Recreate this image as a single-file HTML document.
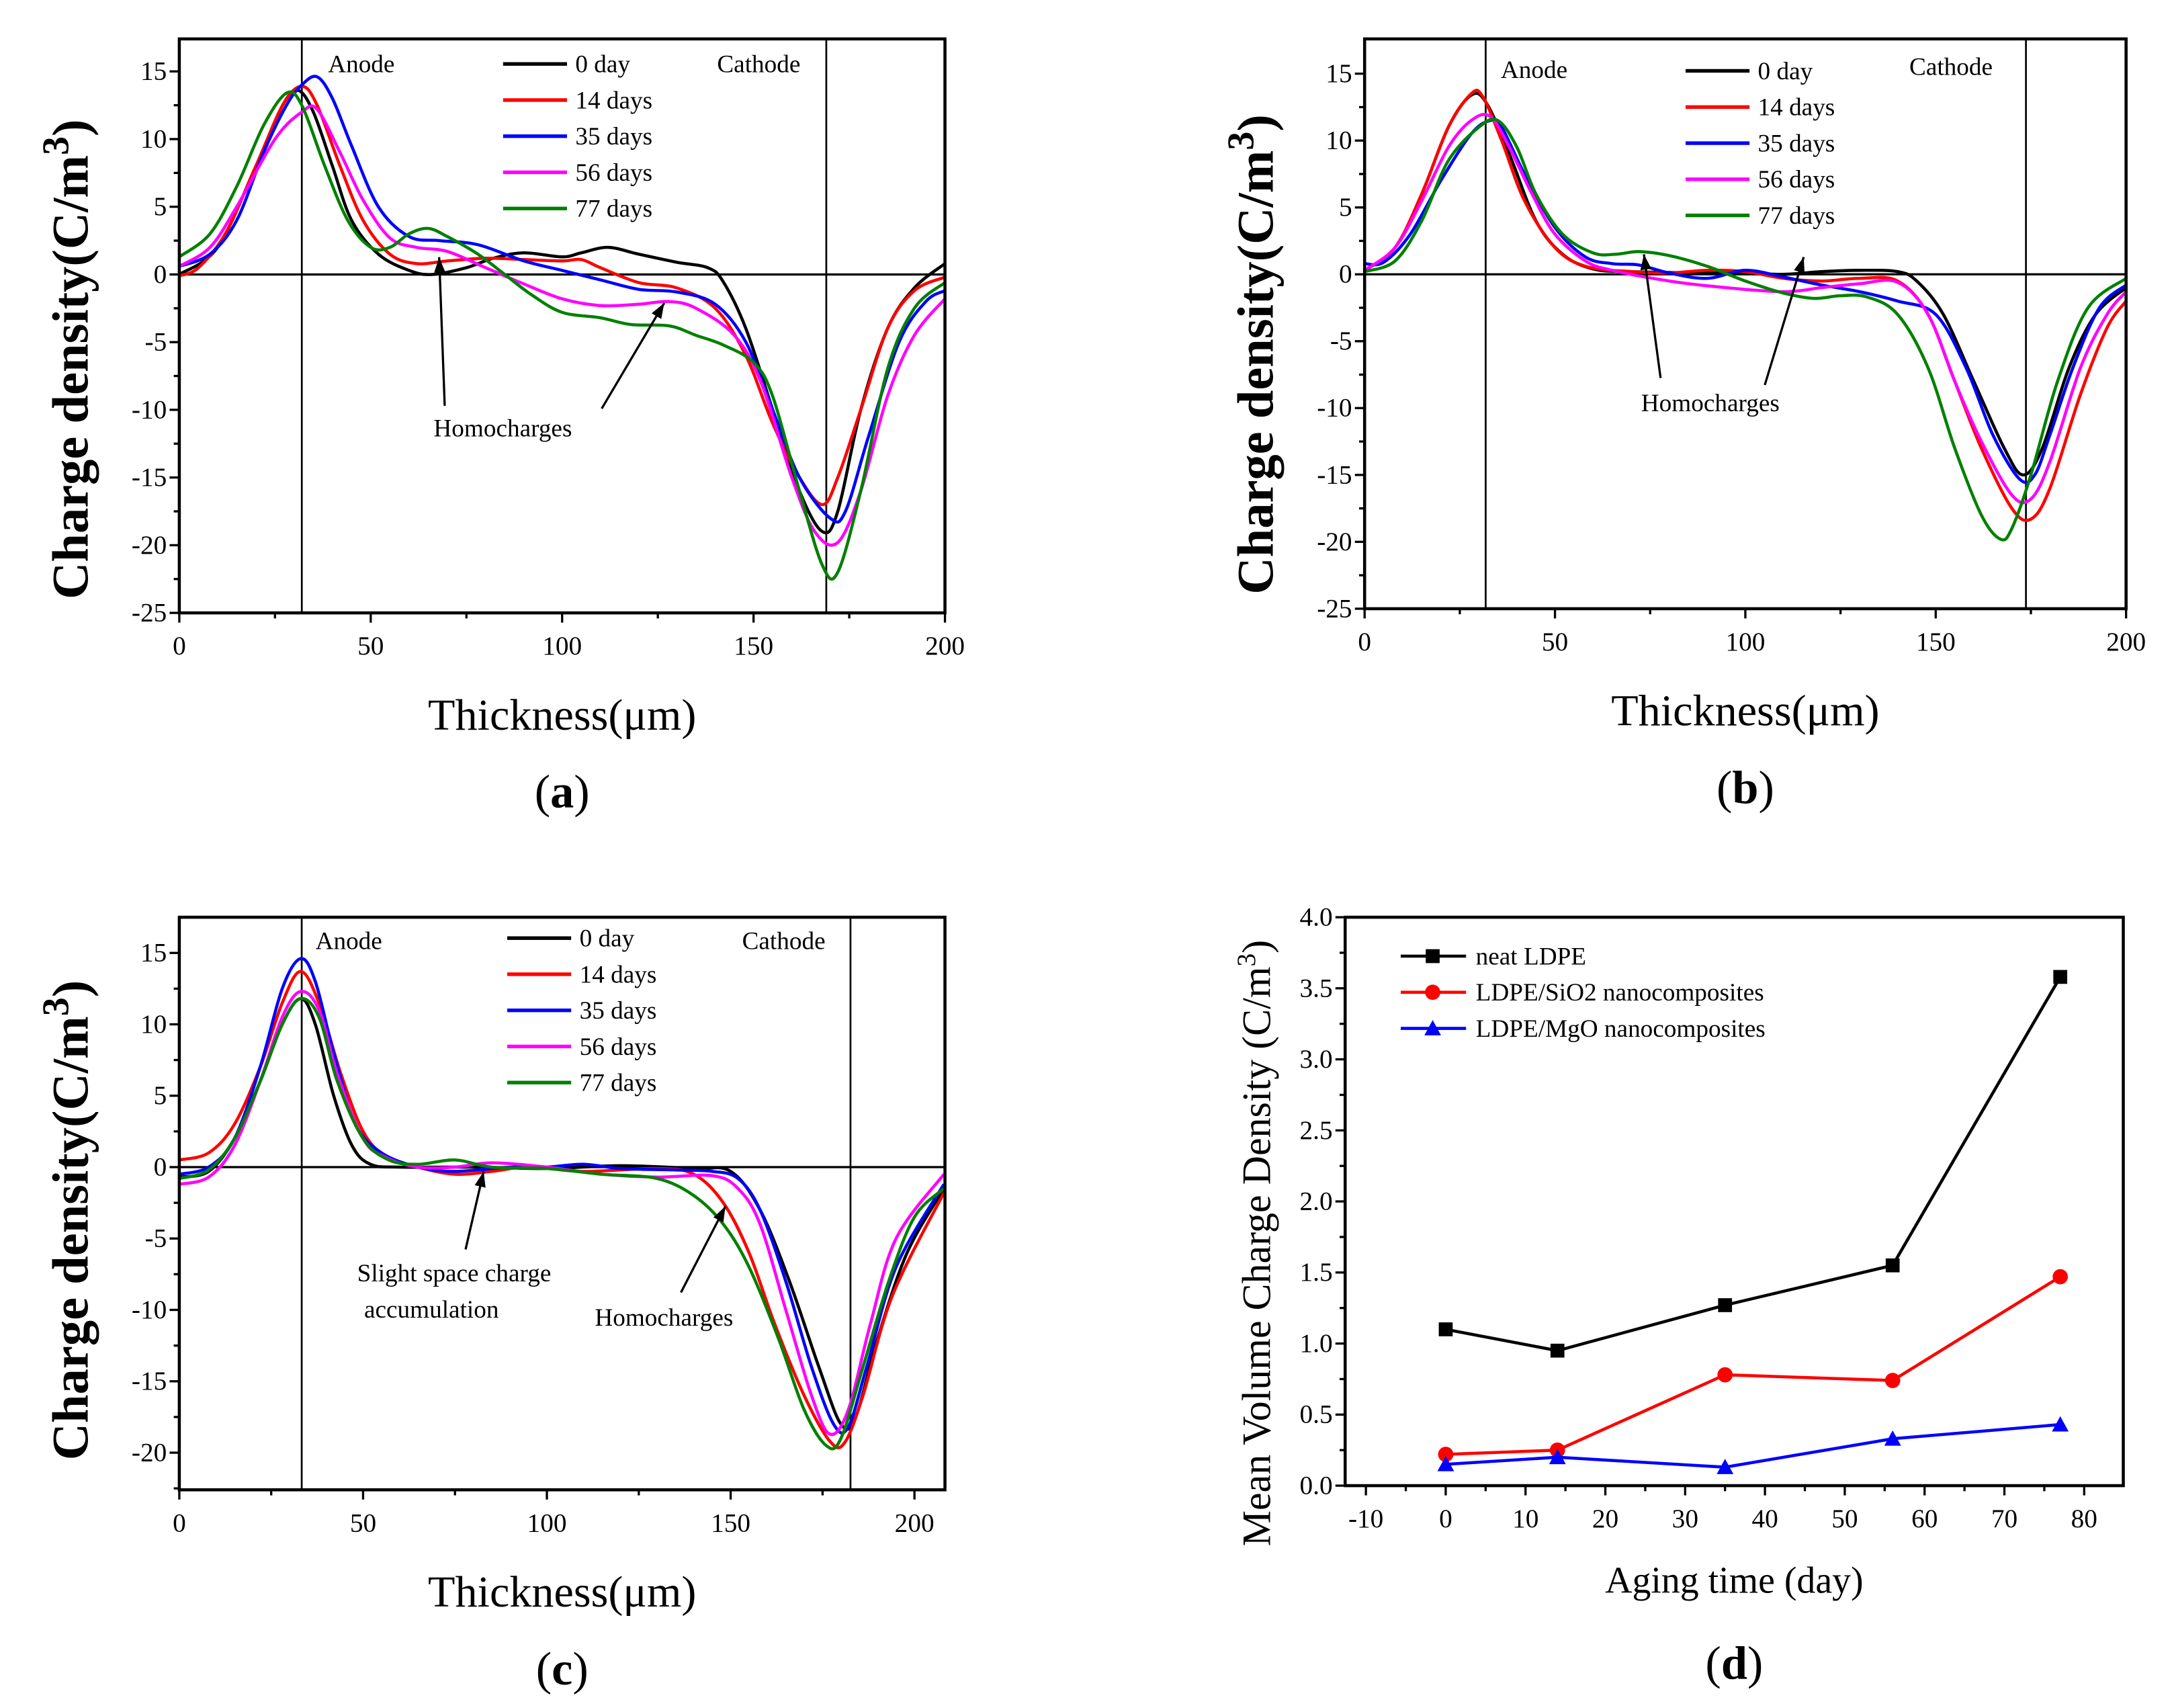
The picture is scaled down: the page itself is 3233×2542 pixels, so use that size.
<!DOCTYPE html>
<html><head><meta charset="utf-8"><style>
html,body{margin:0;padding:0;background:#fff;}
svg{display:block;font-family:"Liberation Serif",serif;}
</style></head><body>
<svg id="fig" width="3233" height="2542" viewBox="0 0 1563 1229" xmlns="http://www.w3.org/2000/svg">
<rect width="1563" height="1229" fill="#fff"/>
</svg>
<script>
// ---------- data ----------
const seriesNames = ["0 day","14 days","35 days","56 days","77 days"];
const seriesColors = ["#000000","#ff0000","#0000ff","#ff00ff","#008000"];
// panel (a)
const aX0 = [0,10,20,27,31,35,40,45,52,60,66,75,82,90,100,105,112,120,130,138,142,148,155,162,168,172,178,185,192,200];
const aY0 = [0,2,8,12.5,13.6,12,8,4,1.5,0.3,0,0.5,1.2,1.6,1.3,1.6,2,1.5,0.9,0.5,-0.5,-4,-10,-16,-19,-17.5,-10,-4,-1,0.8];
const aX1 = [0,5,12,20,27,32,36,42,48,55,62,70,80,90,100,105,110,120,130,140,148,155,162,168,172,178,185,192,200];
const aY1 = [-0.1,0.5,3,8,12.5,13.9,12.5,8,4,1.5,0.8,1,1.2,1.1,1,1.1,0.5,-0.6,-1,-2.5,-6,-11,-15,-17,-15,-10,-4,-1.2,-0.2];
const aX2 = [0,8,15,22,28,32,36,40,45,52,60,68,78,90,100,110,120,130,140,148,155,162,170,174,180,188,195,200];
const aY2 = [0.6,1.5,4,9,12.5,14,14.6,13,9.5,5,2.8,2.5,2.2,1,0.3,-0.4,-1.1,-1.3,-2.2,-5,-10,-15,-18,-17.5,-12,-5,-2,-1.2];
const aX3 = [0,8,15,25,32,36,42,48,55,62,70,80,90,100,110,120,128,135,145,152,160,166,172,178,185,192,200];
const aY3 = [0.6,2,5,10,12,12.2,9,5.5,2.7,2,1.7,0.5,-0.7,-1.8,-2.3,-2.2,-2,-2.5,-4.5,-8,-15,-19,-19.8,-16,-9,-4.5,-1.8];
const aX4 = [0,8,15,22,28,32,38,44,50,55,60,65,70,78,85,92,100,110,118,128,135,142,150,155,162,168,172,178,185,192,200];
const aY4 = [1.3,3,6.5,11,13.4,12.5,8,4,2,2,3,3.4,2.8,1.5,0,-1.5,-2.8,-3.2,-3.7,-3.8,-4.5,-5.2,-6.5,-9,-16,-21.5,-22,-16,-7,-2.5,-0.6];
// panel (b)
const bX0 = [0,8,15,22,28,32,38,45,52,60,70,90,100,110,120,130,140,145,152,160,168,173,178,185,192,200];
const bY0 = [0.3,2,6,11,13.4,12.8,9,4,1.5,0.4,0.2,0.1,0.1,0,0.2,0.3,0.2,-0.5,-3,-8,-13,-15,-13,-7,-3,-1];
const bX1 = [0,8,15,22,28,31,36,42,50,58,70,80,90,100,110,120,130,140,148,155,162,170,175,180,188,195,200];
const bY1 = [0.3,2,6,11,13.5,13.3,10,5.5,2,0.6,0.2,0.1,0.3,0.2,-0.3,-0.5,-0.3,-0.5,-3,-8,-13,-17.5,-18.3,-16,-9,-4,-2];
const bX2 = [0,5,12,20,28,33,36,42,50,58,65,72,80,90,100,110,120,130,140,150,158,165,172,176,180,186,193,200];
const bY2 = [0.8,0.9,3,7,10.5,11.5,11,7.5,3.5,1.3,0.8,0.7,0.1,-0.3,0.3,-0.2,-0.8,-1.3,-2,-3,-7,-12,-15.3,-15,-12,-7,-2.5,-0.8];
const bX3 = [0,8,15,22,28,33,38,44,50,58,65,80,95,110,120,130,140,148,155,162,170,175,180,188,195,200];
const bY3 = [0.3,2,5.5,9.5,11.5,11.8,9.5,6,3,1,0.3,-0.5,-1,-1.3,-1,-0.7,-0.6,-3,-8,-12.5,-16.5,-16.8,-14,-7,-3,-1.3];
const bX4 = [0,8,15,22,30,35,40,45,52,60,66,72,80,90,100,110,118,125,132,140,148,155,162,167,170,175,182,190,200];
const bY4 = [0.2,1,4,8.5,11,11.5,9.5,6,3,1.6,1.5,1.7,1.4,0.6,-0.5,-1.4,-1.8,-1.6,-1.7,-3,-7,-13,-18,-19.8,-19,-15,-8,-2.5,-0.3];
// panel (c)
const cX0 = [0,8,15,22,28,33,37,42,47,52,60,80,100,120,140,150,158,166,174,180,184,190,198,208];
const cY0 = [-0.7,-0.3,2,6,10,11.8,10,5,1.5,0.2,0,0,-0.1,0.1,-0.1,-0.3,-3,-8,-14,-18,-17.5,-12,-6,-1.5];
const cX1 = [0,8,15,22,28,33,38,44,50,56,65,75,85,95,110,130,140,148,155,162,170,177,181,186,194,208];
const cY1 = [0.5,1,3,7,11.5,13.7,11.5,6.5,2.5,0.8,0,-0.5,-0.3,0,-0.3,-0.1,-0.5,-2.5,-6,-11,-16,-19.2,-19.3,-16,-9,-1.8];
const cX2 = [0,8,15,22,28,33,37,42,48,55,65,75,90,100,110,120,135,145,152,158,165,172,178,182,187,195,208];
const cY2 = [-0.5,0,2,7,12.5,14.6,13,8,3,1,0,-0.3,0,0,0.2,-0.1,-0.2,-0.3,-0.8,-3,-8,-14,-18,-18.2,-14,-7,-1.2];
const cX3 = [0,8,15,22,28,33,38,43,50,56,65,75,85,100,115,130,145,152,158,165,172,177,182,188,195,208];
const cY3 = [-1.2,-0.7,1.5,6,10.5,12.3,11,6.5,2,0.7,0,0,0.3,0,-0.5,-0.7,-0.6,-1.5,-4,-10,-16,-18.7,-17,-11,-5,-0.5];
const cX4 = [0,8,15,22,28,33,38,43,50,57,65,75,85,100,115,130,140,148,155,163,170,176,180,186,193,200,208];
const cY4 = [-0.8,-0.2,2,6,10,11.8,10.5,6,2,0.5,0.2,0.5,0,-0.1,-0.5,-0.8,-2,-4,-7,-12,-17,-19.5,-19,-14,-8,-3.5,-1.5];
// panel (d)
const dDays = [0,14,35,56,77];
const dNeat = [1.1,0.95,1.27,1.55,3.58];
const dSiO2 = [0.22,0.25,0.78,0.74,1.47];
const dMgO = [0.15,0.2,0.13,0.33,0.43];
const dNames = ["neat LDPE","LDPE/SiO2 nanocomposites","LDPE/MgO nanocomposites"];
const dColors = ["#000000","#ff0000","#0000ff"];
const thickTicks = [0,50,100,150,200];
const yTicksAB = [15,10,5,0,-5,-10,-15,-20,-25];
const yTicksC = [15,10,5,0,-5,-10,-15,-20];
const dXTicks = [-10,0,10,20,30,40,50,60,70,80];
const dYTicks = [0,0.5,1,1.5,2,2.5,3,3.5,4];

const NS="http://www.w3.org/2000/svg";
const svg=document.getElementById('fig');
function mk(tag,attrs,parent){const e=document.createElementNS(NS,tag);for(const k in attrs)e.setAttribute(k,attrs[k]);(parent||svg).appendChild(e);return e;}
function txt(s,x,y,size,anchor,parent,extra){const t=mk('text',Object.assign({x:x,y:y,'font-size':size,'text-anchor':anchor||'start',fill:'#000'},extra||{}),parent);t.textContent=s;return t;}
function smooth(pts){let d='M'+pts[0][0].toFixed(2)+','+pts[0][1].toFixed(2);
 for(let i=0;i<pts.length-1;i++){const p0=pts[i-1]||pts[i],p1=pts[i],p2=pts[i+1],p3=pts[i+2]||p2;
  const c1=[p1[0]+(p2[0]-p0[0])/6,p1[1]+(p2[1]-p0[1])/6],c2=[p2[0]-(p3[0]-p1[0])/6,p2[1]-(p3[1]-p1[1])/6];
  d+=' C'+c1[0].toFixed(2)+','+c1[1].toFixed(2)+' '+c2[0].toFixed(2)+','+c2[1].toFixed(2)+' '+p2[0].toFixed(2)+','+p2[1].toFixed(2);}
 return d;}
function arrow(x1,y1,x2,y2,g){mk('line',{x1:x1,y1:y1,x2:x2,y2:y2,stroke:'#000','stroke-width':1.6},g);
 const a=Math.atan2(y2-y1,x2-x1),L=11,w=4;const bx=x2-L*Math.cos(a),by=y2-L*Math.sin(a);
 mk('polygon',{points:`${x2},${y2} ${bx-w*Math.sin(a)},${by+w*Math.cos(a)} ${bx+w*Math.sin(a)},${by-w*Math.cos(a)}`,fill:'#000'},g);}

function thicknessPanel(cfg){
 const g=mk('g',{});
 
 
 const X=v=>cfg.L+(v-cfg.xmin)/(cfg.xmax-cfg.xmin)*(cfg.R-cfg.L);
 const Y=v=>cfg.T+(cfg.ymax-v)/(cfg.ymax-cfg.ymin)*(cfg.B-cfg.T);
 const plot=mk('g',{},g);
 
 
 mk('line',{x1:cfg.L,x2:cfg.R,y1:Y(0),y2:Y(0),stroke:'#000','stroke-width':1.6},plot);
 cfg.vlines.forEach(v=>mk('line',{x1:X(v),x2:X(v),y1:cfg.T,y2:cfg.B,stroke:'#000','stroke-width':1.3},plot));
 cfg.series.forEach((s,i)=>{const p=mk('path',{d:smooth(s[0].map((x,j)=>[X(x),Y(s[1][j])])),fill:'none',stroke:seriesColors[i],'stroke-width':2.2},plot);
  
  });
 mk('rect',{x:cfg.L,y:cfg.T,width:cfg.R-cfg.L,height:cfg.B-cfg.T,fill:'none',stroke:'#000','stroke-width':2.2},g);
 const xa=mk('g',{},g);
 
 
 for(let v=cfg.xmin;v<=cfg.xmax+0.01;v+=25){const major=v%50===0;mk('line',{x1:X(v),x2:X(v),y1:cfg.B,y2:cfg.B+(major?7:4),stroke:'#000','stroke-width':1.6},xa);}
 thickTicks.forEach(v=>txt(String(v),X(v),cfg.B+30,19,'middle',xa));
 const ya=mk('g',{},g);
 
 
 for(let v=-25;v<=15;v+=2.5){if(v<cfg.ymin-0.01)continue;const major=v%5===0;mk('line',{x1:cfg.L,x2:cfg.L-(major?7:4),y1:Y(v),y2:Y(v),stroke:'#000','stroke-width':1.6},ya);}
 cfg.yticks.forEach(v=>txt(String(v),cfg.L-9,Y(v)+6,19,'end',ya));
 const xt=txt('Thickness(\u03bcm)',(cfg.L+cfg.R)/2,cfg.B+84,32,'middle',g);
 
 
 const yc=(cfg.T+cfg.B)/2+cfg.yshift;
 const yt=mk('text',{x:0,y:0,'font-size':37,'font-weight':'bold','text-anchor':'middle',transform:`translate(${cfg.L-66},${yc}) rotate(-90)`,fill:'#000'},g);
 yt.innerHTML='Charge density(C/m<tspan dy="-14" font-size="27">3</tspan><tspan dy="14">)</tspan>';
 
 
 const pl=mk('text',{x:(cfg.L+cfg.R)/2,y:cfg.B+140,'font-size':34,'text-anchor':'middle',fill:'#000'},g);
 pl.innerHTML='(<tspan font-weight="bold">'+cfg.letter+'</tspan>)';
 
 
 const lg=mk('g',{},g);
 
 
 seriesNames.forEach((n,i)=>{const y=cfg.leg[1]+i*26;
  const e=mk('g',{},lg);
  
  
  mk('line',{x1:cfg.leg[0],x2:cfg.leg[0]+46,y1:y,y2:y,stroke:seriesColors[i],'stroke-width':2.6},e);
  txt(n,cfg.leg[0]+52,y+6,18,'start',e);});
 cfg.labels.forEach(l=>{const t=txt(l[0],l[1],l[2],18,'start',g);
  
  });
 cfg.arrows.forEach(a=>arrow(a[0],a[1],a[2],a[3],g));
}

thicknessPanel({name:'panel-a',letter:'a',L:129,R:680,T:28,B:441,xmin:0,xmax:200,ymin:-25,ymax:17.4,vlines:[32,169],yshift:24,
 series:[[aX0,aY0],[aX1,aY1],[aX2,aY2],[aX3,aY3],[aX4,aY4]],yticks:yTicksAB,leg:[362,46],
 labels:[['Anode',236,52],['Cathode',516,52],['Homocharges',312,314]],arrows:[[320,292,316,185],[433,294,478,218]]});
thicknessPanel({name:'panel-b',letter:'b',L:982,R:1530,T:28,B:438,xmin:0,xmax:200,ymin:-25,ymax:17.6,vlines:[31.8,173.7],yshift:22,
 series:[[bX0,bY0],[bX1,bY1],[bX2,bY2],[bX3,bY3],[bX4,bY4]],yticks:yTicksAB,leg:[1213,51],
 labels:[['Anode',1080,56],['Cathode',1374,54],['Homocharges',1181,296]],arrows:[[1195,272,1183,183],[1270,277,1298,185]]});
thicknessPanel({name:'panel-c',letter:'c',L:129,R:680,T:660,B:1072,xmin:0,xmax:208.3,ymin:-22.6,ymax:17.5,vlines:[33.3,182.6],yshift:12,
 series:[[cX0,cY0],[cX1,cY1],[cX2,cY2],[cX3,cY3],[cX4,cY4]],yticks:yTicksC,leg:[365,675],
 labels:[['Anode',227,683],['Cathode',534,683],['Slight space charge',257,922],['accumulation',262,948],['Homocharges',428,954]],
 arrows:[[335,899,348,843],[490,930,522,868]]});

// panel (d)
(function(){
 const L=968,R=1528,T=660,B=1069,xmin=-12.6,xmax=84.9,ymin=0,ymax=4;
 const X=v=>L+(v-xmin)/(xmax-xmin)*(R-L), Y=v=>B-(v-ymin)/(ymax-ymin)*(B-T);
 const g=mk('g',{});
 
 
 mk('rect',{x:L,y:T,width:R-L,height:B-T,fill:'none',stroke:'#000','stroke-width':2.2},g);
 const xa=mk('g',{},g);
 
 
 for(let v=-10;v<=80;v+=5){const major=v%10===0;mk('line',{x1:X(v),x2:X(v),y1:B,y2:B+(major?7:4),stroke:'#000','stroke-width':1.6},xa);}
 dXTicks.forEach(v=>txt(String(v),X(v),B+30,19,'middle',xa));
 const ya=mk('g',{},g);
 
 
 for(let v=0;v<=4.001;v+=0.25){const major=Math.abs(v*2-Math.round(v*2))<0.01;mk('line',{x1:L,x2:L-(major?7:4),y1:Y(v),y2:Y(v),stroke:'#000','stroke-width':1.6},ya);}
 dYTicks.forEach(v=>txt(v.toFixed(1),L-9,Y(v)+6,19,'end',ya));
 const xt=txt('Aging time (day)',(L+R)/2,B+77,27,'middle',g);
 
 
 const yt=mk('text',{x:0,y:0,'font-size':29,'text-anchor':'middle',transform:`translate(${L-54},${(T+B)/2+30}) rotate(-90)`,fill:'#000'},g);
 yt.innerHTML='Mean Volume Charge Density (C/m<tspan dy="-11" font-size="19">3</tspan><tspan dy="11">)</tspan>';
 
 
 const pl=mk('text',{x:(L+R)/2,y:1208,'font-size':34,'text-anchor':'middle',fill:'#000'},g);
 pl.innerHTML='(<tspan font-weight="bold">d</tspan>)';
 
 
 function marker(k,x,y,c,p){if(k===0)mk('rect',{x:x-5,y:y-5,width:10,height:10,fill:c},p);
  else if(k===1)mk('circle',{cx:x,cy:y,r:5.5,fill:c},p);
  else mk('polygon',{points:`${x},${y-6} ${x-6},${y+5} ${x+6},${y+5}`,fill:c},p);}
 [dNeat,dSiO2,dMgO].forEach((vals,k)=>{
  const s=mk('g',{},g);
  
  
  mk('polyline',{points:dDays.map((d,i)=>X(d)+','+Y(vals[i])).join(' '),fill:'none',stroke:dColors[k],'stroke-width':2.2},s);
  dDays.forEach((d,i)=>marker(k,X(d),Y(vals[i]),dColors[k],s));
 });
 const lg=mk('g',{},g);
 
 
 dNames.forEach((n,k)=>{const y=688+k*26;
  const e=mk('g',{},lg);
  
  
  mk('line',{x1:1008,x2:1055,y1:y,y2:y,stroke:dColors[k],'stroke-width':2.2},e);
  marker(k,1031,y,dColors[k],e);
  txt(n,1062,y+6,18,'start',e);});
})();
</script>
</body></html>
